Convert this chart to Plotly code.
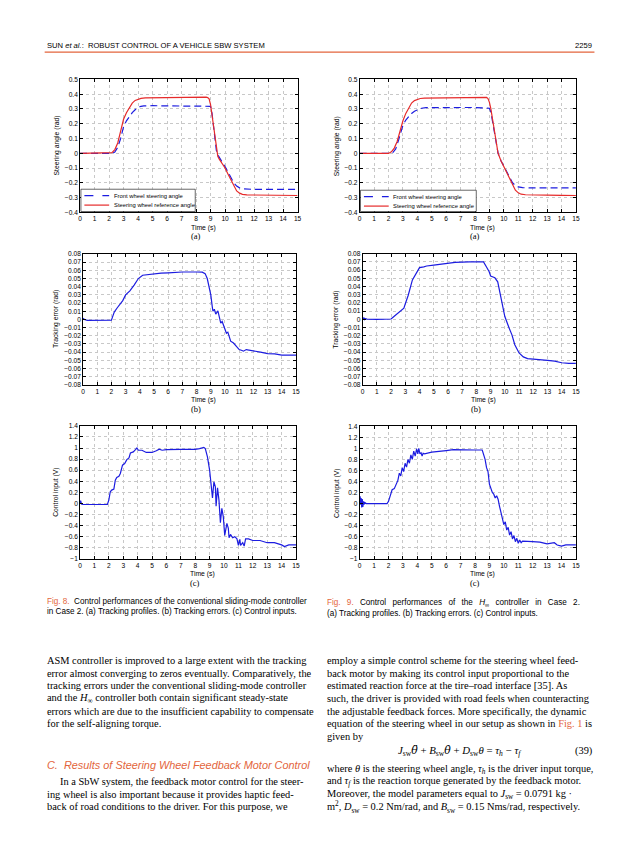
import plotly.graph_objects as go

W, H = 638, 851
OFF = 8  # the page body keeps its default 8px margin

# ---------------- data ----------------
X_TICKS = list(range(0, 16))

Y_TICKS_ANGLE = [-0.4, -0.3, -0.2, -0.1, 0, 0.1, 0.2, 0.3, 0.4, 0.5]
Y_TEXT_ANGLE = ["−0.4", "−0.3", "−0.2", "−0.1", "0", "0.1", "0.2", "0.3", "0.4", "0.5"]
Y_TICKS_ERR = [-0.08, -0.07, -0.06, -0.05, -0.04, -0.03, -0.02, -0.01, 0,
               0.01, 0.02, 0.03, 0.04, 0.05, 0.06, 0.07, 0.08]
Y_TEXT_ERR = ["−0.08", "−0.07", "−0.06", "−0.05", "−0.04", "−0.03", "−0.02", "−0.01", "0",
              "0.01", "0.02", "0.03", "0.04", "0.05", "0.06", "0.07", "0.08"]
Y_TICKS_U = [-1, -0.8, -0.6, -0.4, -0.2, 0, 0.2, 0.4, 0.6, 0.8, 1, 1.2, 1.4]
Y_TEXT_U = ["−1", "−0.8", "−0.6", "−0.4", "−0.2", "0", "0.2", "0.4", "0.6", "0.8", "1", "1.2", "1.4"]

SERIES_FW = "Front wheel steering angle"
SERIES_REF = "Steering wheel reference angle"

# Fig. 8 (a)
T8A_REF = [0, 1.0, 2.0, 2.2, 2.4, 2.6, 2.8, 3.0, 3.2, 3.4, 3.6, 3.8, 4.0, 4.2, 4.5, 5.0, 6.0, 7.0, 8.0, 8.5,
           8.7, 8.8, 8.9, 9.0, 9.1, 9.2, 9.3, 9.4, 9.5, 9.6, 9.8, 10.0, 10.2, 10.4, 10.6, 10.8, 11.0, 11.2,
           11.5, 12.0, 13.0, 14.0, 15.0]
Y8A_REF = [-0.001, -0.001, -0.001, 0.004, 0.025, 0.07, 0.15, 0.23, 0.275, 0.31, 0.34, 0.358, 0.367, 0.372,
           0.375, 0.376, 0.377, 0.378, 0.379, 0.38, 0.38, 0.377, 0.368, 0.33, 0.26, 0.17, 0.085, 0.015,
           -0.02, -0.04, -0.07, -0.1, -0.14, -0.18, -0.225, -0.255, -0.27, -0.278, -0.282, -0.283,
           -0.284, -0.285, -0.286]
T8A_FW = [0, 1.0, 2.2, 2.4, 2.6, 2.8, 3.0, 3.2, 3.4, 3.6, 3.8, 4.0, 4.2, 4.4, 5.0, 6.0, 7.0, 8.0, 8.9, 9.0,
          9.1, 9.2, 9.3, 9.4, 9.5, 9.6, 9.8, 10.0, 10.2, 10.4, 10.6, 10.8, 11.0, 11.3, 11.6, 12.0, 13.0,
          14.0, 15.0]
Y8A_FW = [-0.001, -0.001, -0.001, 0.008, 0.04, 0.1, 0.18, 0.22, 0.25, 0.275, 0.295, 0.31, 0.318, 0.321,
          0.322, 0.322, 0.322, 0.323, 0.323, 0.318, 0.27, 0.18, 0.09, 0.02, -0.01, -0.03, -0.06, -0.09,
          -0.13, -0.17, -0.2, -0.222, -0.234, -0.241, -0.244, -0.245, -0.245, -0.245, -0.245]

# Fig. 9 (a)
T9A_REF = [0, 1.0, 2.0, 2.2, 2.4, 2.6, 2.8, 3.0, 3.2, 3.4, 3.6, 3.8, 4.0, 4.2, 4.5, 5.0, 6.0, 7.0, 8.0, 8.5,
           8.7, 8.8, 8.9, 9.0, 9.1, 9.2, 9.3, 9.4, 9.5, 9.6, 9.8, 10.0, 10.2, 10.4, 10.6, 10.8, 11.0, 11.2,
           11.5, 12.0, 13.0, 14.0, 15.0]
Y9A_REF = [-0.001, -0.001, -0.001, 0.01, 0.035, 0.08, 0.15, 0.22, 0.27, 0.31, 0.34, 0.357, 0.366, 0.371,
           0.374, 0.375, 0.376, 0.377, 0.378, 0.379, 0.38, 0.378, 0.37, 0.345, 0.3, 0.24, 0.17, 0.1,
           0.04, 0.0, -0.05, -0.09, -0.13, -0.18, -0.22, -0.25, -0.268, -0.277, -0.281, -0.283,
           -0.284, -0.285, -0.286]
T9A_FW = [0, 1.0, 2.1, 2.3, 2.5, 2.7, 2.9, 3.0, 3.2, 3.4, 3.6, 3.8, 4.0, 4.3, 4.6, 5.0, 6.0, 7.0, 8.0, 8.9,
          9.0, 9.1, 9.2, 9.3, 9.4, 9.5, 9.6, 9.8, 10.0, 10.2, 10.4, 10.6, 10.8, 11.0, 11.3, 11.6, 12.0,
          13.0, 14.0, 15.0]
Y9A_FW = [-0.001, -0.001, -0.001, 0.005, 0.03, 0.09, 0.16, 0.19, 0.225, 0.25, 0.27, 0.285, 0.295, 0.305,
          0.309, 0.31, 0.31, 0.31, 0.31, 0.31, 0.305, 0.28, 0.22, 0.16, 0.1, 0.04, 0.0, -0.05, -0.09,
          -0.13, -0.17, -0.2, -0.218, -0.228, -0.233, -0.235, -0.235, -0.235, -0.235, -0.235]

# Fig. 8 (b)
T8B = [0, 0.1, 0.3, 1.0, 1.9, 2.0, 2.1, 2.2, 2.4, 2.6, 2.8, 3.0, 3.3, 3.6, 3.9, 4.2, 4.6, 5.0, 5.5, 6.0,
       6.5, 7.0, 8.0, 8.4, 8.6, 8.75, 8.9, 9.0, 9.1, 9.15, 9.25, 9.35, 9.5, 9.6, 9.7, 9.8, 9.9, 10.0,
       10.1, 10.2, 10.3, 10.4, 10.6, 10.8, 11.0, 11.2, 11.3, 11.5, 12.0, 12.5, 13.0, 13.5, 14.0, 14.5, 15.0]
E8B = [0.0016, 0.0, -0.0012, -0.0014, -0.0014, -0.001, 0.004, 0.009, 0.014, 0.019, 0.023, 0.03, 0.035,
       0.042, 0.05, 0.054, 0.055, 0.0555, 0.0565, 0.057, 0.0578, 0.058, 0.058, 0.0578, 0.056, 0.05,
       0.038, 0.03, 0.016, 0.01, 0.0125, 0.0065, 0.0105, 0.0025, -0.0045, -0.0025, -0.0075, -0.0145,
       -0.0168, -0.0155, -0.0225, -0.0265, -0.0288, -0.0328, -0.0368, -0.038, -0.0388, -0.0368,
       -0.0388, -0.04, -0.0418, -0.042, -0.0435, -0.0437, -0.0437]

# Fig. 9 (b)
T9B = [0, 0.05, 0.1, 0.15, 0.2, 0.3, 1.0, 1.9, 2.0, 2.2, 2.4, 2.6, 2.8, 2.9, 3.0, 3.2, 3.5, 3.7, 3.9, 4.0,
       4.3, 4.5, 5.0, 5.5, 6.0, 6.5, 7.5, 8.5, 8.7, 8.9, 9.0, 9.3, 9.5, 9.7, 9.9, 10.0, 10.3, 10.5, 10.7,
       11.0, 11.3, 11.6, 12.0, 12.5, 13.0, 13.5, 14.0, 14.5, 15.0]
E9B = [0.0026, -0.0005, 0.0018, -0.0003, 0.0008, 0.0002, 0.0, 0.0, 0.0004, 0.0035, 0.0065, 0.0095, 0.013,
       0.0135, 0.019, 0.029, 0.048, 0.054, 0.06, 0.063, 0.064, 0.065, 0.066, 0.067, 0.068, 0.0695, 0.07,
       0.07, 0.064, 0.058, 0.0526, 0.0506, 0.0457, 0.03, 0.0135, 0.0034, -0.0107, -0.019, -0.031, -0.041,
       -0.0458, -0.048, -0.0485, -0.049, -0.0502, -0.051, -0.053, -0.0538, -0.0538]

# Fig. 8 (c)
T8C = [0, 0.04, 0.1, 0.2, 1.0, 1.9, 2.0, 2.1, 2.2, 2.35, 2.45, 2.55, 2.7, 2.8, 2.95, 3.1, 3.25, 3.4, 3.5,
       3.7, 3.85, 3.95, 4.05, 4.3, 4.6, 5.0, 5.3, 5.5, 5.7, 6.0, 7.0, 8.0, 8.3, 8.6, 8.7, 8.85, 9.0, 9.1,
       9.2, 9.3, 9.4, 9.45, 9.55, 9.65, 9.75, 9.85, 9.95, 10.05, 10.2, 10.3, 10.35, 10.45, 10.6, 10.75,
       10.9, 11.0, 11.1, 11.15, 11.3, 11.4, 11.5, 11.7, 12.0, 12.5, 13.0, 13.5, 14.0, 14.2, 14.5, 15.0]
U8C = [0.0, 0.05, -0.01, -0.02, -0.02, -0.02, 0.06, 0.21, 0.24, 0.26, 0.42, 0.47, 0.49, 0.54, 0.69, 0.72,
       0.79, 0.82, 0.91, 0.93, 0.97, 1.0, 0.96, 0.96, 0.92, 0.92, 0.95, 0.98, 0.96, 0.97, 0.975, 0.975,
       0.99, 1.01, 0.99, 0.84, 0.6, 0.3, 0.1, 0.39, 0.3, -0.05, 0.28, 0.06, -0.35, -0.09, -0.24, -0.58,
       -0.36, -0.45, -0.62, -0.56, -0.62, -0.6, -0.64, -0.76, -0.65, -0.76, -0.71, -0.77, -0.64, -0.64,
       -0.67, -0.67, -0.71, -0.71, -0.75, -0.78, -0.75, -0.75]

# Fig. 9 (c)
T9C = [0, 0.03, 0.07, 0.1, 0.14, 0.18, 0.22, 0.26, 0.3, 0.35, 0.45, 1.0, 1.9, 2.0, 2.15, 2.25, 2.4, 2.5,
       2.65, 2.75, 2.85, 2.95, 3.05, 3.15, 3.25, 3.35, 3.45, 3.55, 3.65, 3.75, 3.85, 3.95, 4.03, 4.1,
       4.18, 4.26, 4.33, 4.4, 4.5, 5.0, 5.5, 6.0, 6.5, 7.0, 8.0, 8.5, 8.6, 8.7, 8.8, 8.9, 9.0, 9.1, 9.2,
       9.3, 9.4, 9.5, 9.6, 9.7, 9.8, 9.9, 10.0, 10.1, 10.2, 10.3, 10.4, 10.5, 10.6, 10.7, 10.8, 10.9,
       11.0, 11.1, 11.2, 11.3, 11.5, 12.0, 12.5, 13.0, 13.5, 13.7, 14.0, 14.3, 15.0]
U9C = [0.0, 0.13, -0.02, 0.1, -0.07, 0.08, -0.06, 0.04, -0.02, 0.02, 0.0, 0.0, 0.0, 0.04, 0.16, 0.25,
       0.27, 0.33, 0.42, 0.55, 0.5, 0.65, 0.58, 0.73, 0.66, 0.8, 0.73, 0.88, 0.8, 0.95, 0.86, 0.99, 0.9,
       1.0, 0.9, 0.92, 0.86, 0.91, 0.9, 0.93, 0.95, 0.96, 0.975, 0.97, 0.97, 0.97, 0.9, 0.8, 0.65, 0.58,
       0.35, 0.25, 0.2, 0.17, 0.1, 0.14, 0.08, -0.05, -0.15, -0.25, -0.38, -0.33, -0.48, -0.43, -0.57,
       -0.51, -0.64, -0.58, -0.69, -0.63, -0.72, -0.66, -0.71, -0.68, -0.68, -0.69, -0.7, -0.73, -0.71,
       -0.75, -0.77, -0.75, -0.75]

# ---------------- styling ----------------
BLUE = "#1c1ce0"
RED = "#e62a2a"
ACCENT = "#e3653c"
SANS = "Liberation Sans, Arial, sans-serif"
SERIF = "Liberation Serif, Times New Roman, serif"


def fx(px):
    return (px - OFF) / W


def fy(py):
    return 1 - (py - OFF) / H


# panel boxes in page pixels: (left, right, top, bottom)
PANELS = [
    dict(box=(78.7, 298.3, 76, 210), yr=(-0.4, 0.5), yt=(Y_TICKS_ANGLE, Y_TEXT_ANGLE),
         ytitle="Steering angle (rad)", label="(a)", ytx=55,
         traces=[(T8A_FW, Y8A_FW, BLUE, "7px,4px", SERIES_FW), (T8A_REF, Y8A_REF, RED, "solid", SERIES_REF)]),
    dict(box=(81.7, 296.7, 252, 384), yr=(-0.08, 0.08), yt=(Y_TICKS_ERR, Y_TEXT_ERR),
         ytitle="Tracking error (rad)", label="(b)", ytx=55,
         traces=[(T8B, E8B, BLUE, "solid", "error")]),
    dict(box=(78.7, 296.7, 425.3, 559.3), yr=(-1, 1.4), yt=(Y_TICKS_U, Y_TEXT_U),
         ytitle="Control input (V)", label="(c)", ytx=55,
         traces=[(T8C, U8C, BLUE, "solid", "input")]),
    dict(box=(361, 579.3, 76, 210), yr=(-0.4, 0.5), yt=(Y_TICKS_ANGLE, Y_TEXT_ANGLE),
         ytitle="Steering angle (rad)", label="(a)", ytx=337.5,
         traces=[(T9A_FW, Y9A_FW, BLUE, "7px,4px", SERIES_FW), (T9A_REF, Y9A_REF, RED, "solid", SERIES_REF)]),
    dict(box=(364, 579.3, 251.7, 384), yr=(-0.08, 0.08), yt=(Y_TICKS_ERR, Y_TEXT_ERR),
         ytitle="Tracking error (rad)", label="(b)", ytx=337.5,
         traces=[(T9B, E9B, BLUE, "solid", "error")]),
    dict(box=(361, 579.3, 425.7, 559.3), yr=(-1, 1.4), yt=(Y_TICKS_U, Y_TEXT_U),
         ytitle="Control input (V)", label="(c)", ytx=337.5,
         traces=[(T9C, U9C, BLUE, "solid", "input")]),
]

fig = go.Figure()
annotations = []
shapes = []


def text(x, y, s, size, family=SANS, color="black", xanchor="left", angle=0, yanchor="middle"):
    annotations.append(dict(x=fx(x), y=fy(y), xref="paper", yref="paper", text=s, showarrow=False,
                            xanchor=xanchor, yanchor=yanchor, textangle=angle,
                            font=dict(size=size, family=family, color=color)))


TICK_FONT = 6.6
layout_axes = {}
for i, p in enumerate(PANELS, start=1):
    l, r, t, b = p["box"]
    xa = "xaxis" if i == 1 else f"xaxis{i}"
    ya = "yaxis" if i == 1 else f"yaxis{i}"
    xr = "x" if i == 1 else f"x{i}"
    yr = "y" if i == 1 else f"y{i}"
    common = dict(showline=True, linecolor="black", linewidth=0.7, mirror="ticks",
                  ticks="inside", ticklen=3, tickwidth=0.6, tickcolor="black",
                  showgrid=True, gridcolor="#c8c8c8", griddash="dot", gridwidth=0.7,
                  zeroline=False, tickfont=dict(size=TICK_FONT, family=SANS, color="black"))
    layout_axes[xa] = dict(common, domain=[fx(l), fx(r)], anchor=yr, range=[0, 15],
                           tickmode="array", tickvals=X_TICKS, ticktext=[str(v) for v in X_TICKS])
    layout_axes[ya] = dict(common, domain=[fy(b), fy(t)], anchor=xr, range=list(p["yr"]),
                           tickmode="array", tickvals=p["yt"][0], ticktext=p["yt"][1])
    for (tx, ty, col, dash, name) in p["traces"]:
        fig.add_trace(go.Scatter(x=tx, y=ty, mode="lines", name=name, showlegend=False,
                                 line=dict(color=col, width=1.2, dash=dash),
                                 xaxis=xr, yaxis=yr))
    cx = (l + r) / 2
    text(cx, b + 15.5, "Time (s)", 6.8)
    text(cx, b + 24, p["label"], 8.5, family=SERIF)
    text(p["ytx"], (t + b) / 2, p["ytitle"], 6.8, xanchor="center", angle=-90)

# legends (MATLAB style box, south-west)
for (bx0, bx1, by0, by1) in [(79.6, 195, 186.7, 209.2), (361.8, 478.7, 187.7, 209.2)]:
    shapes.append(dict(type="rect", xref="paper", yref="paper", x0=fx(bx0), x1=fx(bx1),
                       y0=fy(by1), y1=fy(by0), fillcolor="white",
                       line=dict(color="black", width=0.6), layer="above"))
    rows = [(by0 + 6.5, BLUE, "dash", SERIES_FW), (by0 + 16, RED, "solid", SERIES_REF)]
    for (yy, col, dash, name) in rows:
        shapes.append(dict(type="line", xref="paper", yref="paper", x0=fx(bx0 + 3.5), x1=fx(bx0 + 28.5),
                           y0=fy(yy), y1=fy(yy), line=dict(color=col, width=1.2, dash=dash),
                           layer="above"))
        text(bx0 + 31, yy, name, 5.85)

# header
text(43, 42, "SUN <i>et al.</i>:  ROBUST CONTROL OF A VEHICLE SBW SYSTEM", 7.6)
text(598, 42, "2259", 7.6, xanchor="right")
shapes.append(dict(type="line", xref="paper", yref="paper", x0=fx(43), x1=fx(598), y0=fy(48.5),
                   y1=fy(48.5), line=dict(color=ACCENT, width=1.2)))

# captions
cap = 8.15
SP = "\u2002 "
text(43, 602, f"<span style='color:{ACCENT}'>Fig. 8.</span>  Control performances of the conventional sliding-mode controller", cap)
text(43, 612.5, "in Case 2. (a) Tracking profiles. (b) Tracking errors. (c) Control inputs.", cap)
text(326, 604, f"<span style='color:{ACCENT}'>Fig.{SP}9.</span>{SP}Control{SP}performances{SP}of{SP}the{SP}<i>H</i><sub>∞</sub>{SP}controller{SP}in{SP}Case{SP}2.", cap)
text(326, 614.5, "(a) Tracking profiles. (b) Tracking errors. (c) Control inputs.", cap)

# body text
BODY = 10.4
LEFT_LINES = [
    "ASM controller is improved to a large extent with the tracking",
    "error almost converging to zeros eventually. Comparatively, the",
    "tracking errors under the conventional sliding-mode controller",
    "and the <i>H</i><sub>∞</sub> controller both contain significant steady-state",
    "errors which are due to the insufficient capability to compensate",
    "for the self-aligning torque.",
]
LEFT_LINES2 = [
    "\u2003 In a SbW system, the feedback motor control for the steer-",
    "ing wheel is also important because it provides haptic feed-",
    "back of road conditions to the driver. For this purpose, we",
]
RIGHT_LINES = [
    "employ a simple control scheme for the steering wheel feed-",
    "back motor by making its control input proportional to the",
    "estimated reaction force at the tire–road interface [35]. As",
    "such, the driver is provided with road feels when counteracting",
    "the adjustable feedback forces. More specifically, the dynamic",
    f"equation of the steering wheel in our setup as shown in <span style='color:{ACCENT}'>Fig. 1</span> is",
    "given by",
]
RIGHT_LINES2 = [
    "where <i>θ</i> is the steering wheel angle, <i>τ</i><sub><i>h</i></sub> is the driver input torque,",
    "and <i>τ</i><sub><i>f</i></sub> is the reaction torque generated by the feedback motor.",
    "Moreover, the model parameters equal to <i>J</i><sub>sw</sub> = 0.0791 kg ·",
    "m<sup>2</sup>, <i>D</i><sub>sw</sub> = 0.2 Nm/rad, and <i>B</i><sub>sw</sub> = 0.15 Nms/rad, respectively.",
]
LH = 12.75
TOP = 662
for k, s in enumerate(LEFT_LINES):
    text(43, TOP + k * LH, s, BODY, family=SERIF)
for k, s in enumerate(LEFT_LINES2):
    text(43, 784 + k * LH, s, BODY, family=SERIF)
for k, s in enumerate(RIGHT_LINES):
    text(326, TOP + k * LH, s, BODY, family=SERIF)
for k, s in enumerate(RIGHT_LINES2):
    text(326, 771.5 + k * LH, s, BODY, family=SERIF)

text(43, 767, "<i>C.  Results of Steering Wheel Feedback Motor Control</i>", 10.9, color=ACCENT)
DV = "<span style='font-family:DejaVu Serif'>"
EQ = (f"<i>J</i><sub>sw</sub>{DV}<i>θ̈</i></span> + <i>B</i><sub>sw</sub>{DV}<i>θ̇</i></span> + "
      f"<i>D</i><sub>sw</sub><i>θ</i> = <i>τ</i><sub><i>h</i></sub> − <i>τ</i><sub><i>f</i></sub>")
text(462, 753, EQ, 10.8, family=SERIF, xanchor="center")
text(598, 753, "(39)", BODY, family=SERIF, xanchor="right")

fig.update_layout(width=W, height=H, margin=dict(l=0, r=0, t=0, b=0),
                  paper_bgcolor="white", plot_bgcolor="white", showlegend=False,
                  annotations=annotations, shapes=shapes, **layout_axes)

fig.write_html("out.html")
